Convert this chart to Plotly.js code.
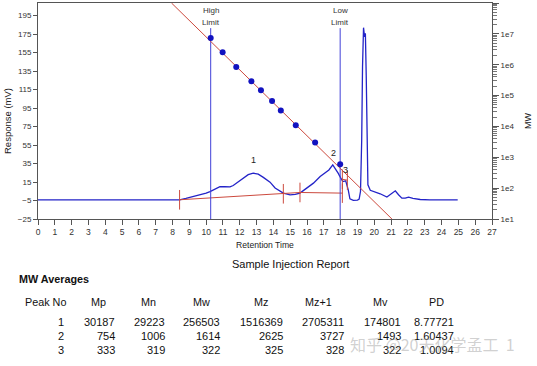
<!DOCTYPE html>
<html><head><meta charset="utf-8">
<script src="https://cdn.plot.ly/plotly-3.0.1.min.js"></script>
<style>html,body{margin:0;padding:0;background:#fff}#c{width:537px;height:366px}</style>
</head><body><div id="c"></div>
<script>
// Chromatogram (retention time, response mV)
const rt   = [0, 8.42, 8.8, 9.2, 9.6, 10.0, 10.23, 10.5, 10.82, 11.1, 11.42, 11.61, 11.9, 12.2, 12.5, 12.8, 13.1, 13.4, 13.8, 14.1, 14.4, 14.59, 14.99, 15.3, 15.58, 15.9, 16.38, 16.78, 17.07, 17.3, 17.53, 17.7, 17.85, 18.0, 18.13, 18.3, 18.45, 18.55, 18.75, 19.0, 19.1, 19.18, 19.25, 19.3, 19.36, 19.42, 19.47, 19.52, 19.57, 19.62, 19.76, 19.95, 20.35, 20.75, 21.15, 21.25, 21.44, 21.64, 21.84, 22.04, 22.3, 22.73, 23.3, 24.96];
const resp = [-4.2, -4.2, -2.6, -1.0, 0.8, 3.0, 4.7, 7.2, 10.1, 9.9, 9.8, 11.2, 15.0, 19.5, 23.0, 24.6, 23.5, 20.0, 14.9, 8.5, 4.8, 3.0, 1.2, 1.6, 3.0, 7.0, 13.8, 20.9, 25.0, 28.0, 33.6, 29.5, 24.6, 19.5, 15.5, 16.3, 6.6, -3.2, -4.8, -4.5, -3.5, 5, 60, 140, 182, 172, 176, 130, 50, 12, 6, 4.8, 2.3, -1.3, 3.7, 5.5, 1.2, -2.4, -2.4, -1.3, -2.6, -3.9, -4.3, -4.3];

// Calibration points (retention time, MW) and calibration line
const calT  = [10.27, 10.98, 11.79, 12.69, 13.26, 13.92, 14.44, 15.33, 16.48, 17.97];
const calMW = [7.4e6, 2.55e6, 8.4e5, 2.9e5, 1.5e5, 6.65e4, 3.3e4, 1.1e4, 3000, 600];
const calLineT  = [7.94, 21.05];
const calLineMW = [1e8, 1e1];

// Integration baseline and peak markers
const baseT = [8.42, 14.59, 15.58, 18.1];
const baseV = [-4.2, 2.3, 3.7, 3.0];
const pk3T = [18.1, 18.4];
const pk3V = [18, 17];
const markT = [8.42, 14.59, 15.58, 18.1, 18.1, 18.4];
const markV = [-4.2, 2.3, 3.7, 3.0, 18, 17];

// Limits
const limitNames = ['High', 'Low'];
const limitT = [10.27, 17.97];
const limitTop = 181.5;

// Peak labels
const peakLabels = ['1', '2', '3'];
const peakLabT = [12.8, 17.55, 18.27];
const peakLabV = [39, 46.5, 28];

// Axis ticks
const yTicks = [-25, -5, 15, 35, 55, 75, 95, 115, 135, 155, 175, 195];
const y2Vals = [1e1, 1e2, 1e3, 1e4, 1e5, 1e6, 1e7, 1e8];
const y2Text = ['1e1', '1e2', '1e3', '1e4', '1e5', '1e6', '1e7', '1e8'];

// MW Averages table
const colHeads = ['Peak No', 'Mp', 'Mn', 'Mw', 'Mz', 'Mz+1', 'Mv', 'PD'];
const peakNo = ['1', '2', '3'];
const Mp   = ['30187', '754', '333'];
const Mn   = ['29223', '1006', '319'];
const Mw   = ['256503', '1614', '322'];
const Mz   = ['1516369', '2625', '325'];
const Mz1  = ['2705311', '3727', '328'];
const Mv   = ['174801', '1493', '322'];
const PD   = ['8.77721', '1.60437', '1.0094'];

const blue = '#2323c8', red = '#cc4a3e', ax = '#555';
const FONT = 'Liberation Sans, Arial, sans-serif';

const minorVals = [];
for (let d = 1; d < 8; d++) for (let k = 2; k <= 9; k++) minorVals.push(k * Math.pow(10, d));

const traces = [
  {x: rt, y: resp, type: 'scatter', mode: 'lines', line: {color: blue, width: 1.3}, hoverinfo: 'skip'},
  {x: baseT, y: baseV, type: 'scatter', mode: 'lines', line: {color: red, width: 1}},
  {x: pk3T, y: pk3V, type: 'scatter', mode: 'lines', line: {color: red, width: 1}},
  {x: markT, y: markV, type: 'scatter', mode: 'markers', marker: {symbol: 'line-ns', size: 14, line: {color: red, width: 1}}},
  {x: calLineT, y: calLineMW, yaxis: 'y2', type: 'scatter', mode: 'lines', line: {color: red, width: 1}},
  {x: calT, y: calMW, yaxis: 'y2', type: 'scatter', mode: 'markers', marker: {color: '#1212c0', size: 6}}
];
limitT.forEach(t => traces.push({x: [t, t], y: [-25, limitTop], type: 'scatter', mode: 'lines', line: {color: '#4040d8', width: 1}}));

const px2x = p => (p - 38) / 454;
const py2y = p => (219 - p) / 216;

const ann = [];
function txt(px, py, text, size, anchor, extra) {
  ann.push(Object.assign({x: px2x(px), y: py2y(py), xref: 'paper', yref: 'paper', xanchor: anchor, yanchor: 'middle',
    text: text, showarrow: false, font: {size: size, color: '#111', family: FONT}}, extra || {}));
}
limitT.forEach((t, i) => {
  ann.push({x: t, y: 201, xref: 'x', yref: 'y', xanchor: 'center', yanchor: 'middle', text: limitNames[i], showarrow: false, font: {size: 8, color: '#333', family: FONT}});
  ann.push({x: t, y: 188, xref: 'x', yref: 'y', xanchor: 'center', yanchor: 'middle', text: 'Limit', showarrow: false, font: {size: 8, color: '#333', family: FONT}});
});
peakLabels.forEach((s, i) => ann.push({x: peakLabT[i], y: peakLabV[i], xref: 'x', yref: 'y', xanchor: 'center', yanchor: 'middle', text: s, showarrow: false, font: {size: 9, color: '#222', family: FONT}}));

// axis titles placed as rotated texts
txt(7, 121, 'Response (mV)', 9.5, 'center', {textangle: -90, font: {size: 9.5, color: '#222', family: FONT}});
txt(528, 121, 'MW', 9, 'center', {textangle: -90, font: {size: 9, color: '#222', family: FONT}});

txt(290.5, 264.3, 'Sample Injection Report', 11, 'center');
txt(17.3, 279, '<b>MW Averages</b>', 10.8, 'left');

const headX = [45.3, 98, 148.3, 201, 261, 318.5, 380, 436];
colHeads.forEach((h, i) => txt(headX[i], 302.3, h, 10.8, 'center'));
const cols = [peakNo, Mp, Mn, Mw, Mz, Mz1, Mv, PD];
const colRight = [65.7, 116.7, 166.7, 222.3, 285, 345.9, 403.4, 455.5];
const rowY = [321.7, 336, 350];
cols.forEach((col, c) => col.forEach((v, r) => txt(colRight[c], rowY[r], v, 11, 'right')));

txt(348, 344, '知乎 @20天化学孟工  1', 16, 'left', {font: {size: 16, color: 'rgba(150,150,150,0.45)', family: 'Noto Sans CJK SC, sans-serif'}});

const layout = {
  width: 537, height: 366,
  margin: {l: 38, r: 45, t: 3, b: 147},
  paper_bgcolor: '#fff', plot_bgcolor: '#fff',
  showlegend: false,
  font: {family: FONT, size: 8, color: '#333'},
  xaxis: {range: [0, 27], tick0: 0, dtick: 1, ticks: 'outside', ticklen: 5, tickcolor: ax, showline: true, linecolor: ax, linewidth: 1, mirror: true, showgrid: false, zeroline: false,
          tickfont: {size: 8.5, color: '#333'}, title: {text: 'Retention Time', font: {size: 8.6, color: '#222'}, standoff: 5}},
  yaxis: {range: [-25, 208.7], tickmode: 'array', tickvals: yTicks, ticks: 'outside', ticklen: 4, tickcolor: ax, showline: true, linecolor: ax, linewidth: 1, showgrid: false, zeroline: false,
          tickfont: {size: 8, color: '#333'}},
  yaxis2: {type: 'log', range: [1, 8], overlaying: 'y', side: 'right', tickmode: 'array', tickvals: y2Vals, ticktext: y2Text, ticks: 'outside', ticklen: 6, tickcolor: ax,
           minor: {tickmode: 'array', tickvals: minorVals, ticks: 'outside', ticklen: 4, tickcolor: '#777'},
           showline: true, linecolor: ax, linewidth: 1, showgrid: false, zeroline: false,
           tickfont: {size: 8, color: '#333'}},
  annotations: ann
};
Plotly.newPlot('c', traces, layout, {staticPlot: true, displayModeBar: false});
</script></body></html>
